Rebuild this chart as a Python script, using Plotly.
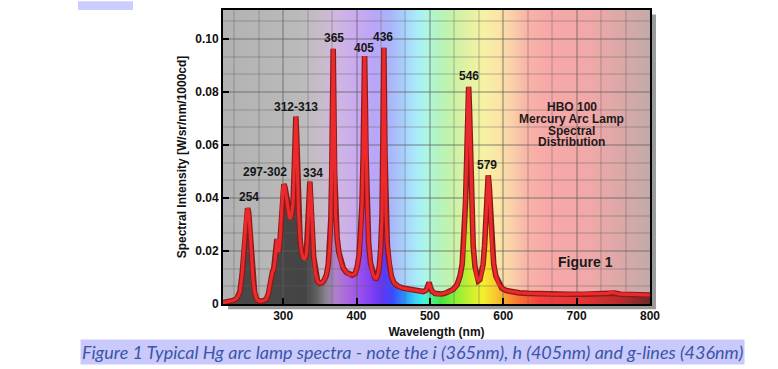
import plotly.graph_objects as go

# ---------------- data ----------------
wavelength_nm = [
    218, 225, 232, 237, 241, 244, 246, 248, 250, 251.5, 253, 255, 257, 259, 261, 264, 268,
    273, 277, 280, 282, 284, 285.5, 287, 289, 290.5, 291.5, 292.5, 294, 296, 298, 299.5,
    301, 302.5, 304.5, 306.5, 308.5, 310, 312, 313.5, 315, 316.3, 317.3, 318.3, 319.5, 321,
    323, 325, 327.5, 329.5, 331.5, 333.5, 335, 336.4, 338, 339.5, 341.5, 344, 347, 350, 353,
    356, 359, 361.5, 363.5, 365, 366.3, 367.3, 368.2, 369.1, 370.1, 371.5, 373.5, 376, 379,
    382, 386, 390, 394, 398, 401, 403.5, 405.5, 407.5, 409, 410.2, 411, 411.8, 413, 414.6,
    416.5, 419, 422, 425, 427, 429, 431, 433, 434.8, 436, 436.7, 437.3, 437.9, 438.8, 440.2,
    442, 444.5, 447.5, 451, 456, 463, 470, 477, 484, 491, 495, 497.5, 499, 500.5, 503, 507,
    511, 516, 521, 527, 532, 537, 541, 544, 546.5, 548.5, 550.3, 551.7, 552.8, 553.9, 555.3,
    557, 559, 561.5, 564, 566, 568, 570, 572.5, 574.5, 576.5, 578, 579.5, 581, 582.5, 584.5,
    587, 590, 594, 598, 604, 612, 622, 635, 650, 670, 690, 710, 730, 742, 748, 752, 760,
    775, 790, 800,
]
intensity = [
    0.0005, 0.0008, 0.0013, 0.0022, 0.0045, 0.011, 0.019, 0.028, 0.0345, 0.0362, 0.0345,
    0.027, 0.017, 0.009, 0.0045, 0.0018, 0.0010, 0.0012, 0.0018, 0.0040, 0.0075, 0.0112,
    0.0122, 0.0128, 0.0165, 0.0215, 0.0245, 0.022, 0.0195, 0.025, 0.037, 0.0435, 0.0452,
    0.0440, 0.0400, 0.0355, 0.0328, 0.0321, 0.0345, 0.0385, 0.050, 0.064, 0.0708, 0.064,
    0.050, 0.034, 0.0245, 0.0195, 0.0172, 0.0170, 0.0185, 0.026, 0.038, 0.0462, 0.040,
    0.029, 0.018, 0.0115, 0.0085, 0.0078, 0.0080, 0.0090, 0.0110, 0.0150, 0.0215, 0.032,
    0.050, 0.075, 0.0964, 0.075, 0.050, 0.034, 0.025, 0.0195, 0.0155, 0.0135, 0.0120,
    0.0112, 0.0109, 0.0115, 0.0140, 0.0185, 0.026, 0.038, 0.056, 0.080, 0.0936, 0.080,
    0.056, 0.036, 0.023, 0.0155, 0.0115, 0.0098, 0.0097, 0.0110, 0.0140, 0.021, 0.034,
    0.056, 0.080, 0.0967, 0.080, 0.056, 0.034, 0.022, 0.0155, 0.0105, 0.0080, 0.0068,
    0.0060, 0.0056, 0.0052, 0.0049, 0.0047, 0.0052, 0.0066, 0.0081, 0.0065, 0.0048, 0.0040,
    0.0037, 0.0038, 0.0041, 0.0047, 0.0056, 0.0072, 0.0105, 0.0150, 0.024, 0.038, 0.056,
    0.074, 0.082, 0.074, 0.056, 0.036, 0.022, 0.0140, 0.0100, 0.0088, 0.0092, 0.0110,
    0.0150, 0.022, 0.034, 0.044, 0.0486, 0.044, 0.034, 0.022, 0.0150, 0.0105, 0.0075,
    0.0060, 0.0051, 0.0046, 0.0042, 0.0040, 0.0038, 0.0037, 0.0037, 0.0037, 0.0038,
    0.0040, 0.0044, 0.0041, 0.0037, 0.0036, 0.0035, 0.0034,
]
peak_labels = ["254", "297-302", "312-313", "334", "365", "405", "436", "546", "579"]
peak_nm = [251.5, 301, 317.3, 336.4, 368.2, 411, 437.3, 552.8, 579.5]
peak_val = [0.0362, 0.0452, 0.0708, 0.0462, 0.0964, 0.0936, 0.0967, 0.082, 0.0486]

x_tick_vals = [300, 400, 500, 600, 700, 800]
y_tick_vals = [0, 0.02, 0.04, 0.06, 0.08, 0.10]
y_tick_text = ["0", "0.02", "0.04", "0.06", "0.08", "0.10"]

lamp_title = ["HBO 100", "Mercury Arc Lamp", "Spectral", "Distribution"]
caption = "Figure 1 Typical Hg arc lamp spectra - note the i (365nm), h (405nm) and g-lines (436nm)"

# ---------------- style ----------------
X_RANGE = [218, 800]
Y_RANGE = [0, 0.111]
FONT = "Liberation Sans, Arial, sans-serif"

bg_stops_nm = [218, 320, 345, 370, 400, 425, 445, 462, 482, 495, 510, 530, 552, 572,
               592, 612, 632, 660, 720, 770, 800]
bg_colors = ['#b2b2b2', '#bababa', '#c4bcc4', '#d0b8dc', '#c9aaf2', '#b9a6f8', '#aab4fa',
             '#a8ccfa', '#a8ecfa', '#acf6e6', '#b4f4c0', '#c6f2a8', '#e2f2a2', '#f6f2a4',
             '#fae6a6', '#fad0a8', '#f8b4a8', '#f8a8a8', '#f0a8a8', '#d6a8a8', '#c2aaaa']
fill_stops_nm = [218, 330, 345, 358, 372, 392, 415, 435, 450, 465, 480, 492, 503, 515,
                 535, 555, 572, 588, 605, 625, 650, 710, 760, 800]
fill_colors = ['#4a4a4a', '#444444', '#5e5e5e', '#8a8290', '#b080cc', '#a860e4', '#8a44f2',
               '#6234fa', '#3a4cfc', '#2a90fc', '#36d4f8', '#48f2e0', '#4cf08c', '#44e444',
               '#8aee34', '#c8f030', '#f4f02e', '#f8cc30', '#f89c30', '#f86a34', '#f04040',
               '#e63232', '#b82a2a', '#6a2a2a']


def scale(stops, colors):
    lo, hi = X_RANGE
    return [[(s - lo) / (hi - lo), c] for s, c in zip(stops, colors)]


label_shift = {  # (xshift px, yshift px)
    "254": (1, 11), "297-302": (-19, 12), "312-313": (0, 9), "334": (3, 9),
    "365": (1, 11), "405": (-1, 8), "436": (-1, 11), "546": (0, 11), "579": (-1, 10),
}

fig = go.Figure()

# background spectrum (pastel) on the lower subplot
fig.add_trace(go.Scatter(
    x=X_RANGE, y=[Y_RANGE[1], Y_RANGE[1]], mode="lines", line=dict(width=0),
    fill="tozeroy",
    fillgradient=dict(type="horizontal", colorscale=scale(bg_stops_nm, bg_colors),
                      start=X_RANGE[0], stop=X_RANGE[1]),
    hoverinfo="skip", showlegend=False, xaxis="x", yaxis="y"))

# saturated spectrum under the curve
fig.add_trace(go.Scatter(
    x=wavelength_nm, y=intensity, mode="lines", line=dict(width=0),
    fill="tozeroy",
    fillgradient=dict(type="horizontal", colorscale=scale(fill_stops_nm, fill_colors),
                      start=X_RANGE[0], stop=X_RANGE[1]),
    hoverinfo="skip", showlegend=False, xaxis="x", yaxis="y"))

# red curve with dark edge, on the upper subplot (above the grid)
fig.add_trace(go.Scatter(
    x=wavelength_nm, y=intensity, mode="lines",
    line=dict(color="#8a1a1a", width=5.6), showlegend=False, xaxis="x2", yaxis="y2"))
fig.add_trace(go.Scatter(
    x=wavelength_nm, y=intensity, mode="lines",
    line=dict(color="#ec2a2c", width=3.2), showlegend=False, xaxis="x2", yaxis="y2"))

grid_col = "rgba(95,95,95,0.22)"
tick_font = dict(family=FONT, size=12, color="#111111", weight="bold")

fig.update_layout(
    width=778, height=369,
    margin=dict(l=223, r=128, t=8, b=65),
    paper_bgcolor="white", plot_bgcolor="rgba(0,0,0,0)",
    showlegend=False,
    xaxis=dict(domain=[0, 1], range=X_RANGE, visible=False, fixedrange=True, anchor="y"),
    yaxis=dict(domain=[0, 1], range=Y_RANGE, visible=False, fixedrange=True, anchor="x"),
    xaxis2=dict(
        domain=[0, 1], range=X_RANGE, anchor="y2",
        tickmode="array", tickvals=x_tick_vals,
        ticks="inside", ticklen=6, tickwidth=2, tickcolor="black",
        showline=True, linecolor="black", linewidth=2, mirror=True,
        showgrid=True, gridcolor=grid_col, gridwidth=1.5, zeroline=False,
        minor=dict(tick0=300, dtick=100 / 3, showgrid=True, gridcolor=grid_col,
                   gridwidth=1.5, ticks=""),
        tickfont=tick_font,
        title=dict(text="Wavelength (nm)", font=tick_font, standoff=5),
    ),
    yaxis2=dict(
        domain=[0, 1], range=Y_RANGE, anchor="x2",
        tickmode="array", tickvals=y_tick_vals, ticktext=y_tick_text,
        ticks="inside", ticklen=6, tickwidth=2, tickcolor="black",
        showline=True, linecolor="black", linewidth=2, mirror=True,
        showgrid=True, gridcolor=grid_col, gridwidth=1.5, zeroline=False,
        minor=dict(tick0=0, dtick=0.02 / 3, showgrid=True, gridcolor=grid_col,
                   gridwidth=1.5, ticks=""),
        tickfont=tick_font,
        title=dict(text="Spectral Intensity [W/sr/nm/1000cd]", font=tick_font, standoff=6),
    ),
)

# drop shadow of the plot frame
fig.add_shape(type="rect", xref="paper", yref="paper",
              x0=0.012, x1=1.014, y0=-0.018, y1=0.985,
              fillcolor="rgba(70,70,70,0.55)", line=dict(width=0), layer="below")

# highlighted strip at the very top-left (cut-off text line)
fig.add_shape(type="rect", xref="paper", yref="paper",
              x0=-0.3396, x1=-0.2108, y0=1.0, y1=1.03,
              fillcolor="#ccccff", line=dict(width=0), layer="below")

# peak labels
for t, xv, yv in zip(peak_labels, peak_nm, peak_val):
    dx, dy = label_shift[t]
    fig.add_annotation(x=xv, y=yv, xref="x2", yref="y2", text=t, showarrow=False,
                       xanchor="center", yanchor="middle", xshift=dx, yshift=dy,
                       font=dict(family=FONT, size=12, color="#161616", weight="bold"))

# lamp title (tight line spacing, as in the original)
title_y = [0.0742, 0.0697, 0.0652, 0.0610]
for t, yv in zip(lamp_title, title_y):
    fig.add_annotation(x=693.3, y=yv, xref="x2", yref="y2", text=t, showarrow=False,
                       xanchor="center", yanchor="middle",
                       font=dict(family=FONT, size=12, color="#1e1a1a", weight="bold"))

fig.add_annotation(x=711.4, y=0.0157, xref="x2", yref="y2", text="Figure 1",
                   showarrow=False, xanchor="center", yanchor="middle",
                   font=dict(family=FONT, size=14, color="#1a1a1a", weight="bold"))

# caption
fig.add_annotation(x=0.4438, y=-0.162, xref="paper", yref="paper", text=caption,
                   showarrow=False, xanchor="center", yanchor="middle",
                   bgcolor="#c9c9fb", borderpad=1,
                   font=dict(family="Lato, Open Sans, sans-serif", size=18,
                             color="#3b56a8", style="italic"))

fig.write_html("out.html", config={"displayModeBar": False},
               post_script="document.body.style.margin='0';document.body.style.padding='0';")
